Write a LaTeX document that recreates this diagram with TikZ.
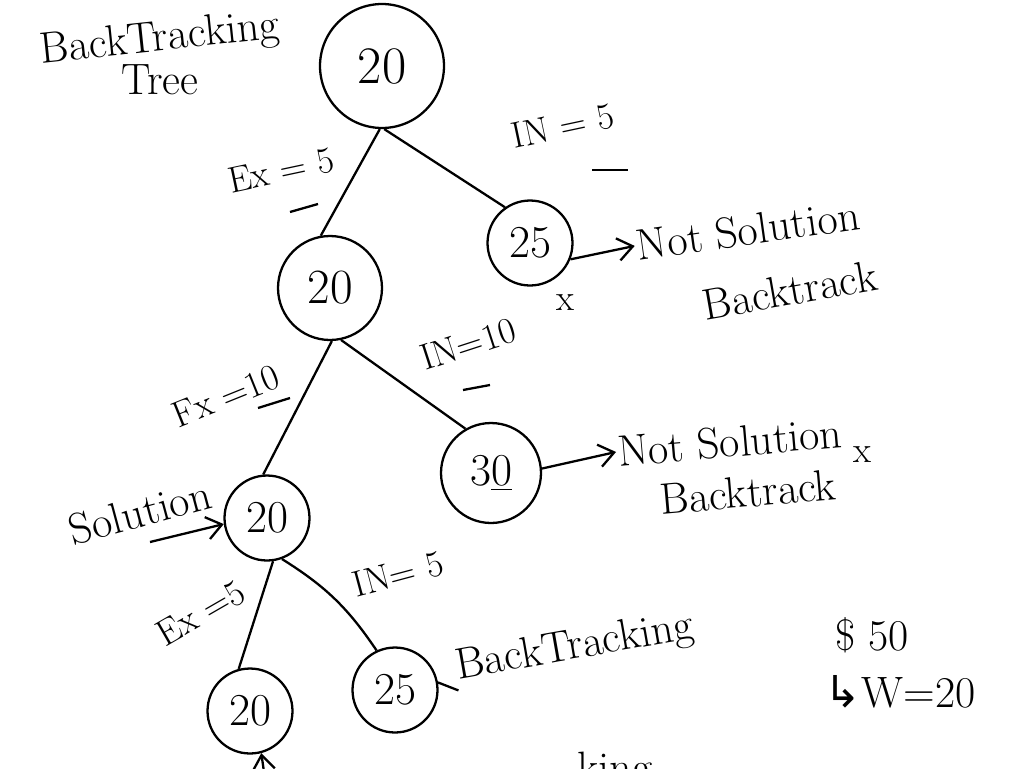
\documentclass[tikz,border=0pt]{standalone}
\usepackage{fontspec}
\newfontfamily\symfont{DejaVu Sans}
\usetikzlibrary{arrows.meta}

\begin{document}
\begin{tikzpicture}[
    x=0.02cm,y=-0.02cm,
    state/.style={circle,draw,line width=1.3pt,inner sep=0pt,font=\fontsize{26}{28}\selectfont},
    edge/.style={line width=1.3pt},
    note/.style={font=\fontsize{25}{27}\selectfont,inner sep=1pt},
    weight/.style={font=\fontsize{21}{23}\selectfont,inner sep=1pt},
    pointer/.style={-{Straight Barb[length=3mm,width=4.5mm]},line width=1.3pt}
  ]
    \useasboundingbox (0,0) rectangle (1024,768);
    % tree
    \node[state,minimum size=2.48cm,font=\fontsize{30}{32}\selectfont] (root) at (382,66) {20};
    \node[state,minimum size=1.7cm] (rt) at (530,243) {25};
    \node[state,minimum size=2.08cm,font=\fontsize{28}{30}\selectfont] (a) at (330,288) {20};
    \node[state,minimum size=2.0cm] (b) at (491,473) {3\underline{0}};
    \node[state,minimum size=1.7cm] (c) at (267,518) {20};
    \node[state,minimum size=1.7cm] (d) at (250,711) {20};
    \node[state,minimum size=1.7cm] (e) at (395,690) {25};
    \draw[edge] (root.-92) -- (a.100);
    \draw[edge] (root.-88) -- (rt.125);
    \draw[edge] (a.-88) -- (c.95);
    \draw[edge] (a.-78) -- (b.120);
    \draw[edge] (c.-82) -- (d.105);
    \draw[edge] (c.-70) to[bend left=12] (e.115);
    % edge labels
    \node[weight,rotate=12] (w1) at (281,170) {Ex = 5};
    \node[weight,rotate=12] (w2) at (563,126) {IN = 5};
    \node[weight,rotate=22] (w3) at (226,396) {Fx =10};
    \node[weight,rotate=18] (w4) at (468,344) {IN=10};
    \node[weight,rotate=30] (w5) at (201,613) {Ex =5};
    \node[weight,rotate=15] (w6) at (398,574) {IN= 5};
    \draw[edge] (290,212) -- (318,204);
    \draw[edge] (592,170) -- (628,170);
    \draw[edge] (258,408) -- (290,398);
    \draw[edge] (463,390) -- (490,385);
    % notes
    \node[note,rotate=6] (title1) at (160,40) {BackTracking};
    \node[note] (title2) at (160,80) {Tree};
    \node[note,rotate=8] (ns1) at (748,230) {Not Solution};
    \node[note,rotate=10] (bt1) at (790,290) {Backtrack};
    \node[weight] (x1) at (565,303) {x};
    \draw[pointer] (rt.-22) -- (ns1.west);
    \node[note,rotate=5] (ns2) at (730,442) {Not Solution};
    \node[note,rotate=5] (bt2) at (748,492) {Backtrack};
    \node[weight] (x2) at (862,455) {x};
    \draw[pointer] (b.5) -- (ns2.west);
    \node[note,rotate=15] (sol) at (140,512) {Solution};
    \coordinate (solfoot) at (150,542);
    \draw[pointer] (solfoot) -- (c.188);
    \node[note,rotate=10] (bt3) at (575,648) {BackTracking};
    \draw[edge] (e.10) -- (bt3.190);
    \node[note] (cut) at (615,772) {king};
    \coordinate (dfoot) at (268,800);
    \draw[pointer] (dfoot) -- (d.-75);
    \node[note] (cash) at (872,635) {\$ 50};
    \node[note] (want) at (900,692) {{\symfont ↳}W=20};
  \end{tikzpicture}
\end{document}
